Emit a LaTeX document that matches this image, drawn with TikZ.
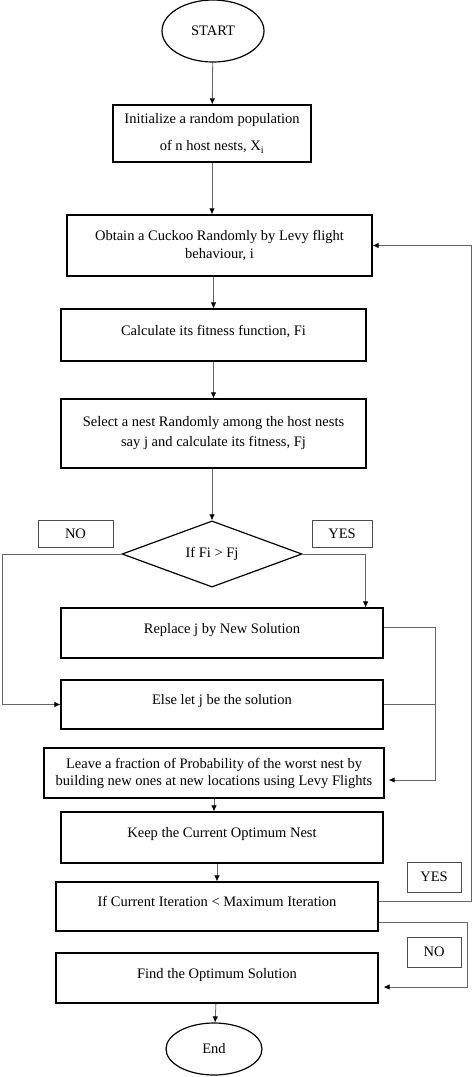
\documentclass[tikz,border=0pt]{standalone}
\usepackage{fontspec}
\setmainfont{Liberation Serif}
\usetikzlibrary{shapes.geometric,arrows.meta}

\tikzset{
  box/.style={draw, line width=1.2pt, minimum width=322pt, minimum height=50pt, align=center, inner sep=2pt},
  onebox/.style={box, text height=10pt, text depth=10pt},
  term/.style={ellipse, draw, line width=1.2pt, inner sep=0pt},
  tag/.style={draw=black!70, line width=0.8pt, minimum height=27pt, inner sep=0pt},
  flow/.style={draw=black!60, line width=0.8pt},
}

\begin{document}
\begin{tikzpicture}[x=1pt, y=1pt, node distance=100pt, >={Latex[length=6pt,width=5.5pt,color=black]},
    font=\fontsize{14.5}{17}\selectfont]
  \useasboundingbox (0,0) rectangle (474,-1077);
  \node (Start) [term, minimum width=102pt, minimum height=62pt] at (213,-31) {START};
  \node (Init) [box, minimum width=198pt, minimum height=57pt, below of=Start, node distance=102.5pt, xshift=-1pt]
    {Initialize a random population\\[10pt] of n host nests, X\textsubscript{i}};
  \node (Cuckoo) [box, minimum width=305pt, minimum height=61pt, below of=Init, node distance=112pt, xshift=7.5pt]
    {Obtain a Cuckoo Randomly by Levy flight\\[1.5pt] behaviour, i};
  \node (Fit) [onebox, minimum width=305pt, minimum height=52pt, below of=Cuckoo, node distance=89.5pt, xshift=-6pt]
    {Calculate its fitness function, Fi};
  \node (Sel) [box, minimum width=305pt, minimum height=69pt, below of=Fit, node distance=98.5pt]
    {Select a nest Randomly among the host nests\\[3pt] say j and calculate its fitness, Fj};
  \node (Cmp) [diamond, draw, line width=1.2pt, inner sep=0pt, minimum width=180pt, minimum height=58pt,
    below of=Sel, node distance=120.5pt, xshift=-1.5pt] {If Fi > Fj};
  \node (No1) [tag, minimum width=75pt, above of=Cmp, node distance=20.5pt, xshift=-136.5pt] {NO};
  \node (Yes1) [tag, minimum width=60pt, above of=Cmp, node distance=20.5pt, xshift=130pt] {YES};
  \node (Rep) [onebox, below of=Cmp, node distance=79pt, xshift=10pt] {Replace j by New Solution};
  \node (Els) [onebox, minimum height=49pt, below of=Rep, node distance=71.5pt] {Else let j be the solution};
  \node (Abd) [box, minimum width=340pt, below of=Els, node distance=68.5pt, xshift=-8pt]
    {Leave a fraction of Probability of the worst nest by\\ building new ones at new locations using Levy Flights};
  \node (Keep) [onebox, minimum height=51pt, below of=Abd, node distance=64.5pt, xshift=8pt] {Keep the Current Optimum Nest};
  \node (Iter) [onebox, minimum height=49pt, below of=Keep, node distance=69pt, xshift=-5pt]
    {If Current Iteration < Maximum Iteration};
  \node (Yes2) [tag, minimum width=54pt, minimum height=30pt, above of=Iter, node distance=29.5pt, xshift=217pt] {YES};
  \node (No2) [tag, minimum width=54pt, minimum height=30pt, below of=Iter, node distance=45.5pt, xshift=217pt] {NO};
  \node (Opt) [onebox, below of=Iter, node distance=71.5pt] {Find the Optimum Solution};
  \node (End) [term, minimum width=96pt, minimum height=52pt, below of=Opt, node distance=71pt, xshift=-3pt] {End};

  \draw [flow, ->] (Start) -- (Init);
  \draw [flow, ->] (Init.south) -- (Init.south |- Cuckoo.north);
  \draw [flow, ->] (Fit.north |- Cuckoo.south) -- (Fit.north);
  \draw [flow, ->] (Fit) -- (Sel);
  \draw [flow, ->] (Cmp.north |- Sel.south) -- (Cmp.north);
  \draw [flow, ->] (Cmp.west) -- ++(-119pt,0) |- (Els.west);
  \draw [flow, ->] (Cmp.east) -| ([xshift=-18pt]Rep.north east);
  \draw [flow, ->] ([yshift=6pt]Rep.east) -- ++(52pt,0) coordinate (J) |- ([xshift=4pt,yshift=-7pt]Abd.east);
  \draw [flow] (Els.east) -- (Els.east -| J);
  \draw [flow, ->] (Abd.south) -- (Abd.south |- Keep.north);
  \draw [flow, ->] (Iter.north |- Keep.south) -- (Iter.north);
  \draw [flow, ->] ([yshift=5.5pt]Iter.east) -- ++(93pt,0) |- (Cuckoo.east);
  \draw [flow, ->] ([yshift=-15.5pt]Iter.east) -- ++(89pt,0) |- ([xshift=5pt,yshift=-9pt]Opt.east);
  \draw [flow, ->] (Opt) -- (End);
\end{tikzpicture}
\end{document}
